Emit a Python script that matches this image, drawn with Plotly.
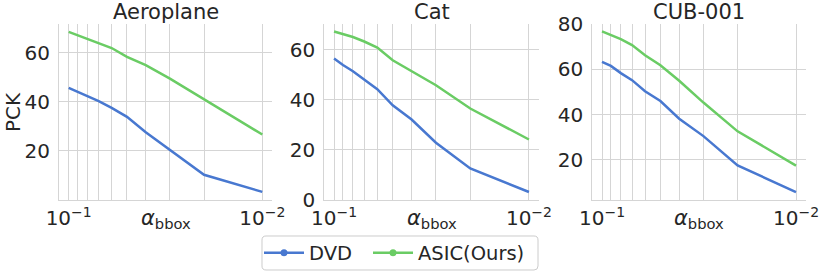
import plotly.graph_objects as go

alphas = [0.1, 0.09, 0.08, 0.07, 0.06, 0.05, 0.04, 0.03, 0.02, 0.01]

titles = ["Aeroplane", "Cat", "CUB-001"]

dvd_aeroplane = [45.7, 44.2, 42.4, 40.3, 37.6, 33.9, 27.6, 20.3, 10.3, 3.3]
asic_aeroplane = [68.6, 67.2, 65.7, 64.0, 62.0, 58.4, 55.0, 49.5, 41.0, 26.7]

dvd_cat = [56.5, 53.9, 51.4, 48.2, 44.2, 37.8, 32.1, 22.8, 12.5, 3.1]
asic_cat = [67.3, 66.4, 65.1, 63.3, 60.9, 55.8, 51.3, 45.8, 36.5, 24.1]

dvd_cub = [63.3, 61.5, 58.3, 55.2, 50.3, 46.0, 38.2, 30.5, 17.6, 5.8]
asic_cub = [76.7, 75.1, 73.3, 70.7, 66.2, 61.8, 54.9, 45.3, 32.6, 17.5]

series_names = ["DVD", "ASIC(Ours)"]
colors = ["#4878d0", "#6acc64"]

panels = [
    (dvd_aeroplane, asic_aeroplane),
    (dvd_cat, asic_cat),
    (dvd_cub, asic_cub),
]
y_ranges = [[0.0, 72.0], [-0.1, 70.5], [2.3, 80.2]]
y_ticks = [[20, 40, 60], [0, 20, 40, 60], [20, 40, 60, 80]]

W, H = 821, 276


def px(v):
    return v / W


def py(v):
    return 1 - v / H


x_px = [(59, 272), (324.3, 538.7), (592.3, 805.7)]
y_dom = [py(200), py(23.5)]

tick_text = ["10<sup>\u22121</sup>"] + [""] * 8 + ["10<sup>\u22122</sup>"]

fig = go.Figure()
font = "DejaVu Sans"
grid = "#d5d5d5"

layout = dict(
    template="none",
    width=W, height=H,
    margin=dict(l=0, r=0, t=0, b=0, autoexpand=False),
    paper_bgcolor="white", plot_bgcolor="white",
    font=dict(family=font, color="#262626", size=20),
    showlegend=True,
)

annotations = []
for i, (dvd, asic) in enumerate(panels):
    xa = "x" if i == 0 else f"x{i+1}"
    ya = "y" if i == 0 else f"y{i+1}"
    for vals, name, col in zip((dvd, asic), series_names, colors):
        fig.add_trace(go.Scatter(
            x=alphas, y=vals, mode="lines", name=name,
            line=dict(color=col, width=2.5),
            xaxis=xa, yaxis=ya, showlegend=False,
        ))
    key = "" if i == 0 else str(i + 1)
    layout["xaxis" + key] = dict(
        type="log",
        domain=[px(x_px[i][0]), px(x_px[i][1])],
        range=[-0.95, -2.05],
        tickvals=alphas, ticktext=tick_text,
        showgrid=True, gridcolor=grid, gridwidth=1,
        showline=True, linecolor=grid, linewidth=1,
        ticks="", zeroline=False, automargin=False,
        tickfont=dict(size=20),
        anchor=ya,
    )
    layout["yaxis" + key] = dict(
        domain=y_dom,
        range=y_ranges[i],
        tickvals=y_ticks[i],
        showgrid=True, gridcolor=grid, gridwidth=1,
        showline=True, linecolor=grid, linewidth=1,
        ticks="", zeroline=False, automargin=False,
        tickfont=dict(size=20),
        ticklabelstandoff=4,
        anchor=xa,
    )
    cx = px((x_px[i][0] + x_px[i][1]) / 2)
    annotations.append(dict(
        text=titles[i], x=cx, y=py(12), xref="paper", yref="paper",
        showarrow=False, font=dict(size=21), xanchor="center", yanchor="middle",
    ))
    annotations.append(dict(
        text="<i>\u03b1</i><sub>bbox</sub>", x=cx, y=py(219),
        xref="paper", yref="paper", showarrow=False, font=dict(size=21),
        xanchor="center", yanchor="middle",
    ))

annotations.append(dict(
    text="PCK", x=px(13), y=py(112), xref="paper", yref="paper",
    showarrow=False, font=dict(size=20), textangle=-90,
    xanchor="center", yanchor="middle",
))

legend_ids = ["legend", "legend2"]
legend_x = [259, 368]
for name, col, lid in zip(series_names, colors, legend_ids):
    fig.add_trace(go.Scatter(
        x=[None], y=[None], mode="lines+markers", name=name,
        line=dict(color=col, width=2.5), marker=dict(color=col, size=7),
        showlegend=True, legend=lid,
    ))

for lid, lx in zip(legend_ids, legend_x):
    layout[lid] = dict(
        orientation="h", x=px(lx), y=py(253), xanchor="left", yanchor="middle",
        borderwidth=0, bgcolor="rgba(0,0,0,0)",
        font=dict(size=19.5), itemwidth=40,
    )

# rounded legend frame (pixel coords converted to paper coords below)
frame_px = (f"M {262+4} {236} L {538-4} {236} Q {538} {236} {538} {240} "
            f"L {538} {266} Q {538} {270} {538-4} {270} L {262+4} {270} "
            f"Q {262} {270} {262} {266} L {262} {240} Q {262} {236} {262+4} {236} Z")
out = []
expect_x = True
for p in frame_px.split():
    if p.isalpha():
        out.append(p)
        expect_x = True
        continue
    v = float(p)
    out.append(f"{px(v):.5f}" if expect_x else f"{py(v):.5f}")
    expect_x = not expect_x

fig.add_shape(
    type="path", xref="paper", yref="paper", path=" ".join(out),
    line=dict(color="#cccccc", width=1), fillcolor="white", layer="above",
)

layout["annotations"] = annotations
fig.update_layout(**layout)

fig.write_html(
    "out.html",
    config={"displayModeBar": False},
    post_script="document.body.style.margin='0';",
)
